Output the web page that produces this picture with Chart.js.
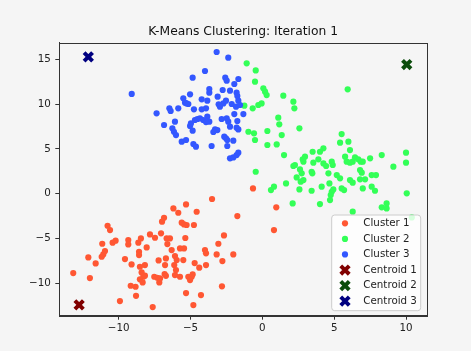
<!DOCTYPE html>
<html>
<head>
<meta charset="utf-8">
<script src="https://cdn.jsdelivr.net/npm/chart.js@4.4.1/dist/chart.umd.min.js"></script>
<style>
  html, body { margin: 0; padding: 0; background: #ffffff; }
  #wrap { position: relative; width: 474px; height: 355px; }
</style>
</head>
<body>
<div id="wrap"><canvas id="c"></canvas></div>
<script>
// ---- Data ----
const titleText = 'K-Means Clustering: Iteration 1';
const seriesLabels = ['Cluster 1', 'Cluster 2', 'Cluster 3', 'Centroid 1', 'Centroid 2', 'Centroid 3'];
const xTicks = [-10, -5, 0, 5, 10];
const yTicks = [-10, -5, 0, 5, 10, 15];

const cluster1X = [-13.16, -12.0, -12.11, -11.6, -11.18, -11.07, -10.95, -11.14, -10.77, -10.6,
  -10.42, -10.21, -9.91, -9.56, -9.33, -9.33, -9.1, -9.16, -8.82, -8.79,
  -8.63, -8.45, -8.58, -8.58, -8.52, -8.17, -8.4, -8.28, -8.52, -8.33,
  -8.17, -8.05, -7.82, -7.63, -7.52, -7.31, -7.17, -7.12, -7.47, -7.22,
  -7.05, -6.98, -6.84, -6.77, -6.71, -6.66, -6.61, -6.43, -6.31, -6.8,
  -6.71, -6.19, -5.85, -6.08, -5.96, -6.13, -6.01, -6.08, -5.73, -5.45,
  -5.61, -5.45, -5.27, -5.5, -5.73, -5.36, -5.31, -5.31, -5.15, -5.03,
  -4.92, -4.85, -4.8, -4.76, -4.71, -4.57, -4.39, -4.27, -3.99, -3.92,
  -3.92, -3.5, -3.18, -3.06, -2.78, -2.81, -2.67, -2.02, -1.74, -0.65,
  0.97, 0.81];
const cluster1Y = [-8.85, -9.41, -7.1, -7.77, -7.03, -6.77, -6.39, -5.58, -3.57, -4.05,
  -5.46, -5.24, -11.97, -7.29, -5.17, -5.65, -7.88, -10.26, -10.37, -11.38,
  -5.46, -4.98, -6.47, -6.84, -8.14, -7.96, -8.77, -9.26, -9.55, -9.89,
  -9.14, -5.99, -4.54, -12.64, -9.26, -9.37, -9.89, -9.44, -4.91, -7.44,
  -4.42, -3.12, -2.68, -7.96, -7.21, -4.98, -5.61, -4.98, -6.28, -8.96,
  -9.15, -1.64, -2.12, -6.95, -7.4, -7.96, -8.51, -9.07, -6.1, -6.1,
  -3.23, -3.42, -3.49, -7.4, -9.26, -4.94, -1.19, -11.08, -9.26, -9.63,
  -9.26, -9.0, -12.42, -3.49, -7.73, -2.01, -8.25, -11.3, -6.28, -6.65,
  -7.96, -0.59, -6.77, -5.58, -7.51, -10.33, -4.65, -6.77, -2.49, 0.59,
  -1.52, -4.05];

const cluster2X = [-1.09, -0.46, -0.51, 0.07, 0.19, 0.3, -1.25, -0.67, -0.28, -0.05,
  1.46, 2.16, 2.23, 1.11, 1.18, -0.97, -0.58, -0.51, 0.35, 0.35,
  1.0, -0.46, 2.58, 1.35, 1.51, 1.65, 2.11, 4.01, 6.29, 5.52,
  5.41, 5.99, 6.1, 4.25, 4.01, 3.5, 2.97, 2.81, 2.27, 2.16,
  2.86, 3.55, 3.9, 4.25, 4.44, 4.83, 4.9, 2.62, 2.74, 3.43,
  3.48, 2.39, 2.67, 2.86, 2.58, 3.43, 4.13, 4.6, 4.67, 4.83,
  4.76, 4.94, 4.71, 5.18, 5.41, 5.52, 5.69, 5.76, 5.87, 6.1,
  6.29, 6.45, 6.68, 6.85, 6.99, 6.8, 6.92, 6.1, 6.29, 6.8,
  7.15, 6.99, 7.5, 7.61, 7.91, 7.61, 7.84, 8.31, 9.12, 10.0,
  10.0, 10.05, 8.31, 8.65, 8.65, 0.6, 0.81, 5.94, 10.4];
const cluster2Y = [14.54, 13.75, 12.49, 11.75, 11.38, 11.0, 9.81, 9.52, 9.89, 10.07,
  10.93, 10.26, 9.52, 8.48, 7.73, 6.91, 6.73, 5.99, 6.99, 5.43,
  5.5, 2.45, 7.29, 6.54, 4.31, 1.15, -1.08, -1.15, -2.0, 6.65,
  5.69, 5.8, 4.87, 5.06, 4.68, 4.68, 4.13, 3.83, 3.2, 3.09,
  3.57, 3.46, 3.83, 3.38, 3.09, 3.57, 3.2, 2.71, 2.27, 2.45,
  2.27, 1.82, 1.34, 1.52, 0.48, 0.33, 0.78, 2.27, 1.15, 0.22,
  -0.15, 0.48, -0.71, 2.08, 1.71, 0.59, 0.41, 4.13, 3.57, 3.46,
  3.57, 4.05, 3.83, 3.57, 3.57, 2.64, 2.34, 1.52, 1.23, 1.6,
  1.6, 0.59, 3.94, 2.08, 2.08, 0.78, 0.33, 4.31, 3.01, 4.57,
  3.46, 0.04, -1.52, -1.08, -1.64, 0.41, 0.78, 11.64, -2.64];

const cluster3X = [-9.09, -3.18, -2.37, -3.99, -4.85, -2.58, -2.48, -1.67, -1.95, -3.69,
  -3.69, -2.76, -2.25, -1.79, -1.74, -5.03, -5.5, -5.38, -5.27, -5.15,
  -4.22, -3.83, -3.11, -2.71, -2.53, -2.13, -1.83, -1.67, -1.55, -6.47,
  -6.38, -7.36, -5.85, -4.76, -4.22, -3.92, -3.04, -2.95, -1.95, -1.32,
  -6.08, -6.84, -4.69, -4.52, -4.34, -4.11, -3.83, -3.69, -3.92, -5.03,
  -4.97, -2.83, -2.48, -2.37, -1.74, -6.26, -6.15, -4.85, -3.29, -3.13,
  -3.41, -2.25, -1.79, -1.67, -6.01, -2.65, -2.53, -2.44, -2.02, -5.61,
  -5.31, -4.8, -4.62, -3.53, -2.44, -2.25, -2.02, -1.79, -1.67];
const cluster3Y = [11.12, 15.8, 15.17, 13.68, 12.94, 12.94, 12.6, 12.79, 12.23, 11.67,
  11.26, 11.56, 11.49, 11.26, 10.89, 11.08, 10.63, 10.15, 10.07, 10.0,
  10.52, 10.37, 10.82, 10.07, 10.37, 10.0, 9.7, 10.37, 9.89, 9.52,
  9.22, 8.96, 9.52, 9.41, 9.41, 9.52, 9.96, 9.7, 8.88, 8.88,
  8.03, 7.66, 8.22, 8.33, 8.4, 8.22, 8.59, 8.03, 7.99, 7.55,
  7.84, 8.33, 8.4, 8.03, 8.1, 7.29, 6.91, 7.03, 7.17, 7.1,
  6.88, 7.47, 7.36, 7.17, 6.54, 6.36, 6.17, 5.99, 5.91, 5.8,
  5.99, 5.54, 5.24, 5.32, 5.32, 3.94, 4.05, 4.31, 4.57];

const centroidX = [-12.75, 10.05, -12.11];
const centroidY = [-12.4, 14.4, 15.25];

// ---- Styling ----
const clusterColors = ['#FF5733', '#33FF57', '#3357FF'];
const centroidColors = ['#800000', '#0b4d0b', '#000080'];
const FONT = "'DejaVu Sans', sans-serif";

function pts(xs, ys) { return xs.map((x, i) => ({ x: x, y: ys[i] })); }
function fmt(v) { return v < 0 ? '\u2212' + Math.abs(v) : String(v); }

const datasets = [];
[[cluster1X, cluster1Y], [cluster2X, cluster2Y], [cluster3X, cluster3Y]].forEach((d, i) => {
  datasets.push({
    label: seriesLabels[i],
    data: pts(d[0], d[1]),
    backgroundColor: clusterColors[i],
    borderColor: clusterColors[i],
    borderWidth: 0,
    pointRadius: 3.1,
    pointStyle: 'circle',
    order: 6 - i
  });
});
centroidX.forEach((x, i) => {
  datasets.push({
    label: seriesLabels[3 + i],
    data: [{ x: x, y: centroidY[i] }],
    backgroundColor: centroidColors[i],
    borderColor: centroidColors[i],
    borderWidth: 4,
    pointRadius: 6,
    pointStyle: 'crossRot',
    order: 3 - i
  });
});

const bgPlugin = {
  id: 'bg',
  beforeDraw(chart) {
    const ctx = chart.ctx;
    ctx.save();
    ctx.fillStyle = '#ffffff';
    ctx.fillRect(0, 0, chart.width, chart.height);
    ctx.fillStyle = '#f5f5f5';
    ctx.fillRect(0, 0, 471, 351);
    ctx.restore();
  }
};

function drawMarker(ctx, ds, x, y) {
  ctx.save();
  if (ds.pointStyle === 'circle') {
    ctx.fillStyle = ds.backgroundColor;
    ctx.beginPath();
    ctx.arc(x, y, ds.pointRadius, 0, Math.PI * 2);
    ctx.fill();
  } else {
    const o = ds.pointRadius * Math.SQRT1_2;
    ctx.strokeStyle = ds.borderColor;
    ctx.lineWidth = ds.borderWidth;
    ctx.beginPath();
    ctx.moveTo(x - o, y - o); ctx.lineTo(x + o, y + o);
    ctx.moveTo(x + o, y - o); ctx.lineTo(x - o, y + o);
    ctx.stroke();
  }
  ctx.restore();
}

const legendPlugin = {
  id: 'mplLegend',
  afterDatasetsDraw(chart) {
    const ctx = chart.ctx;
    const a = chart.chartArea;
    const w = 89, h = 95.7;
    const x0 = a.right - 6.3 - w, y0 = a.bottom - 5 - h;
    ctx.save();
    ctx.beginPath();
    const r = 3;
    ctx.moveTo(x0 + r, y0);
    ctx.arcTo(x0 + w, y0, x0 + w, y0 + h, r);
    ctx.arcTo(x0 + w, y0 + h, x0, y0 + h, r);
    ctx.arcTo(x0, y0 + h, x0, y0, r);
    ctx.arcTo(x0, y0, x0 + w, y0, r);
    ctx.closePath();
    ctx.fillStyle = 'rgba(255,255,255,0.8)';
    ctx.fill();
    ctx.strokeStyle = '#cccccc';
    ctx.lineWidth = 1;
    ctx.stroke();
    ctx.font = '10.3px ' + FONT;
    ctx.fillStyle = '#222222';
    ctx.textBaseline = 'middle';
    ctx.textAlign = 'left';
    chart.data.datasets.forEach((ds, i) => {
      const yy = y0 + 8.3 + i * 15.58;
      drawMarker(ctx, ds, x0 + 13.3, yy);
      ctx.fillText(ds.label, x0 + 31.6, yy);
    });
    ctx.restore();
  },
  afterDraw(chart) {
    const ctx = chart.ctx;
    const a = chart.chartArea;
    ctx.save();
    ctx.strokeStyle = '#333333';
    ctx.lineWidth = 1;
    ctx.strokeRect(Math.round(a.left) + 0.5, Math.round(a.top) + 0.5,
      Math.round(a.right - a.left), Math.round(a.bottom - a.top));
    ctx.restore();
  }
};

new Chart(document.getElementById('c'), {
  type: 'scatter',
  data: { datasets: datasets },
  plugins: [bgPlugin, legendPlugin],
  options: {
    responsive: true,
    maintainAspectRatio: false,
    animation: false,
    events: [],
    layout: { padding: { left: 0, right: 47, top: 0, bottom: 0 } },
    plugins: {
      legend: { display: false },
      tooltip: { enabled: false },
      title: {
        display: true,
        fullSize: false,
        align: 'center',
        text: titleText,
        color: '#111111',
        font: { family: FONT, size: 12.3, weight: 'normal' },
        padding: { top: 24, bottom: 3.9 }
      }
    },
    scales: {
      x: {
        type: 'linear',
        min: -14.13,
        max: 11.46,
        afterFit(s) { s.height = 39.3; },
        afterBuildTicks(s) { s.ticks = xTicks.map(v => ({ value: v })); },
        ticks: {
          includeBounds: false,
          callback: v => fmt(v),
          color: '#222222',
          font: { family: FONT, size: 10.3 },
          padding: 2,
          maxRotation: 0
        },
        grid: { drawOnChartArea: false, drawTicks: true, tickLength: 4, color: '#333333' },
        border: { display: true, color: '#333333', width: 1 }
      },
      y: {
        type: 'linear',
        min: -13.6,
        max: 16.84,
        afterFit(s) { s.width = 59.3; },
        afterBuildTicks(s) { s.ticks = yTicks.map(v => ({ value: v })); },
        ticks: {
          includeBounds: false,
          callback: v => fmt(v),
          color: '#222222',
          font: { family: FONT, size: 10.3 },
          padding: 4.5
        },
        grid: { drawOnChartArea: false, drawTicks: true, tickLength: 4, color: '#333333' },
        border: { display: true, color: '#333333', width: 1 }
      }
    }
  }
});
</script>
</body>
</html>
